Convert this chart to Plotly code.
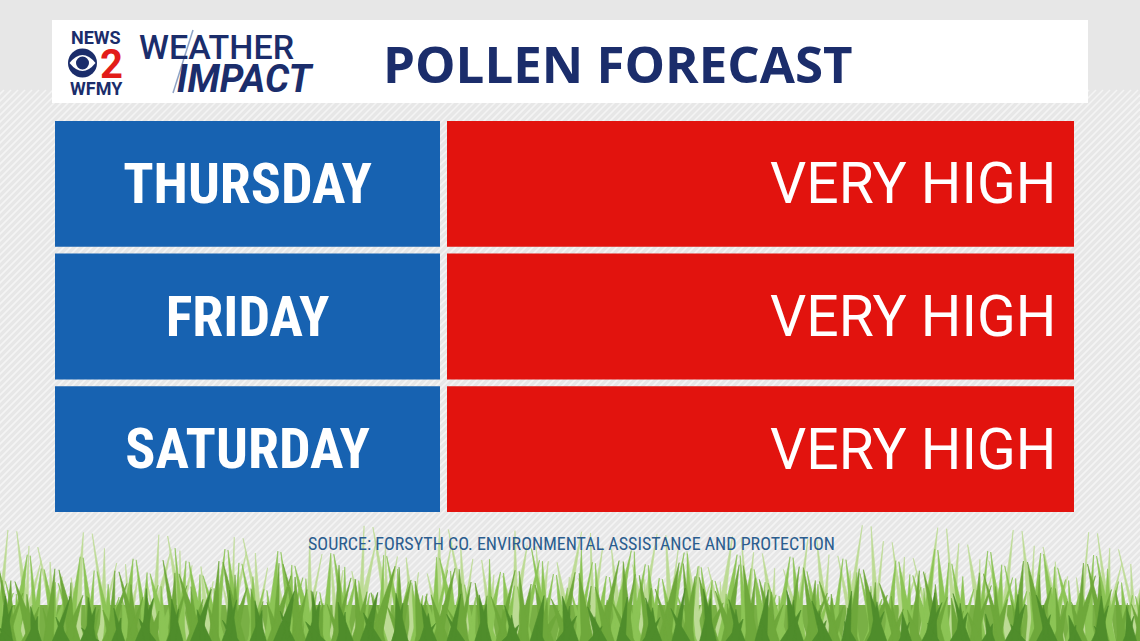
import plotly.graph_objects as go

W, H = 1140, 641

title = "POLLEN FORECAST"
days = ["THURSDAY", "FRIDAY", "SATURDAY"]
levels = ["VERY HIGH", "VERY HIGH", "VERY HIGH"]
source = "SOURCE: FORSYTH CO. ENVIRONMENTAL ASSISTANCE AND PROTECTION"

NAVY = "#1b2d6b"
BLUE = "#1762b1"
RED = "#e2130e"
BG = "#e7e7e7"


def px(x):
    return x / W


def py(y):
    return 1 - y / H


fig = go.Figure()

# ---- background stripes (decoration, pixel coords on the base axes)
sx, sy = [], []
for k in range(-600, W + 40, 7):
    sx += [k, k + 520, None]
    sy += [610, 90, None]
fig.add_trace(go.Scatter(x=sx, y=sy, mode="lines", line=dict(color="rgba(255,255,255,0.55)", width=1.6),
                         hoverinfo="skip", showlegend=False))

# ---- grass (decoration)
phi = 0.6180339887
psi = 0.7548776662


def blades(n, top_lo, top_hi, w_lo, w_hi, lean, seed):
    gx, gy = [], []
    for i in range(n):
        a = (seed + i * phi) % 1
        b = (seed * 3 + i * psi) % 1
        c = (seed * 7 + i * 0.5698403) % 1
        bx = (i + a) * (W + 40) / n - 20
        top = top_lo + (top_hi - top_lo) * b
        w = w_lo + (w_hi - w_lo) * c
        tip = bx + (a - 0.5) * 2 * lean
        gx += [bx - w / 2, tip, bx + w / 2, None]
        gy += [H + 5, top, H + 5, None]
    return gx, gy


fig.add_trace(go.Scatter(x=[-10, W + 10, W + 10, -10], y=[605, 605, H + 5, H + 5], fill="toself",
                         fillcolor="#79b045", line=dict(width=0), mode="lines",
                         hoverinfo="skip", showlegend=False))
for n, lo, hi, wl, wh, ln, col, sd in [
    (120, 525, 585, 5, 10, 24, "#bddb95", 0.11),
    (170, 548, 600, 6, 12, 20, "#8cc455", 0.37),
    (150, 560, 612, 7, 14, 22, "#6ea83b", 0.71),
    (110, 588, 628, 8, 16, 18, "#4f8d2b", 0.23),
]:
    gx, gy = blades(n, lo, hi, wl, wh, ln, sd)
    fig.add_trace(go.Scatter(x=gx, y=gy, fill="toself", fillcolor=col, line=dict(width=0.6, color=col),
                             mode="lines", hoverinfo="skip", showlegend=False))

# ---- table: day labels (blue) and pollen levels (red)
fig.add_trace(go.Bar(
    y=days, x=[1] * len(days), orientation="h", xaxis="x2", yaxis="y2",
    marker=dict(color=BLUE, line=dict(width=0)),
    text=days, textposition="inside", insidetextanchor="middle", textangle=0,
    insidetextfont=dict(family="Roboto Condensed, Roboto, Arial", size=56, color="white", weight=700),
    hoverinfo="skip", showlegend=False,
))
fig.add_trace(go.Bar(
    y=days, x=[1] * len(days), orientation="h", xaxis="x3", yaxis="y2",
    marker=dict(color=RED, line=dict(width=0)),
    hoverinfo="skip", showlegend=False,
))

annotations = []
for d, lv in zip(days, levels):
    annotations.append(dict(x=1, y=d, xref="x3", yref="y2", text=lv, showarrow=False,
                            xanchor="right", yanchor="middle", xshift=-15,
                            font=dict(family="Roboto, Arial", size=57, color="white", weight=400)))

# ---- header
shapes = [
    dict(type="rect", xref="paper", yref="paper", x0=px(52), x1=px(1088), y0=py(103), y1=py(20),
         fillcolor="white", line=dict(width=0), layer="below"),
    # CBS eye
    dict(type="circle", xref="paper", yref="paper", x0=px(68), x1=px(97), y0=py(77.5), y1=py(48.5),
         fillcolor=NAVY, line=dict(width=0)),
    dict(type="path", xref="paper", yref="paper",
         path=f"M {px(69.5)},{py(63)} Q {px(82.5)},{py(47)} {px(95.5)},{py(63)} "
              f"Q {px(82.5)},{py(79)} {px(69.5)},{py(63)} Z",
         fillcolor="white", line=dict(width=0)),
    dict(type="circle", xref="paper", yref="paper", x0=px(76), x1=px(89), y0=py(69.5), y1=py(56.5),
         fillcolor=NAVY, line=dict(width=0)),
    dict(type="line", xref="paper", yref="paper", x0=px(173), x1=px(193), y0=py(93), y1=py(30),
         line=dict(color="#8ea3c6", width=1.5)),
]


def label(x, y, text, xanchor="center", align="center", **font):
    annotations.append(dict(x=px(x), y=py(y), xref="paper", yref="paper", text=text, showarrow=False,
                            xanchor=xanchor, yanchor="middle", align=align, font=font))


label(618, 63, f"<b>{title}</b>", family="Open Sans, Roboto, Arial", size=51, color=NAVY, weight=800)
label(96, 37.5, "<b>NEWS</b>", family="Roboto, Arial", size=18, color=NAVY)
label(111, 64, "<b>2</b>", family="Roboto, Arial", size=40, color="#e21d19", weight=900)
label(96, 88, "<b>WFMY</b>", family="Roboto, Arial", size=18, color=NAVY)
label(137, 64,
      "<span style='font-size:34px'>WEATHER</span><br>"
      "<span style='font-size:38px'>&nbsp;&nbsp;&nbsp;&nbsp;<b><i>IMPACT</i></b></span>",
      xanchor="left", align="left", family="Roboto, Arial", size=25, color=NAVY, weight=500)
label(571, 543, source, family="Roboto Condensed, Liberation Sans Narrow, Roboto, Arial",
      size=18, color="#2b5d8f")

hidden = dict(visible=False, showgrid=False, zeroline=False, fixedrange=True)
fig.update_layout(
    width=W, height=H,
    margin=dict(l=0, r=0, t=0, b=0),
    paper_bgcolor=BG, plot_bgcolor="rgba(0,0,0,0)",
    xaxis=dict(domain=[0, 1], range=[0, W], **hidden),
    yaxis=dict(domain=[0, 1], range=[H, 0], **hidden),
    xaxis2=dict(domain=[px(55), px(440)], range=[0, 1], anchor="y2", **hidden),
    xaxis3=dict(domain=[px(447), px(1074)], range=[0, 1], anchor="y2", **hidden),
    yaxis2=dict(domain=[py(515.5), py(117.5)], autorange="reversed", type="category", anchor="x2", **hidden),
    bargap=0.052,
    shapes=shapes,
    annotations=annotations,
    showlegend=False,
)

fig.write_html("out.html", config={"displayModeBar": False},
               post_script="document.body.style.margin='0';")
